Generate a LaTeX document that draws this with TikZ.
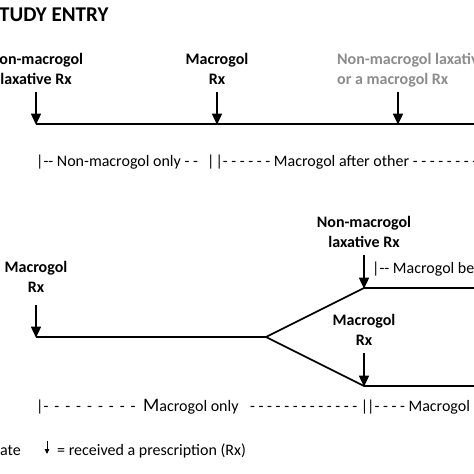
\documentclass[tikz,border=0pt]{standalone}
\usepackage{fontspec}
\setmainfont{Carlito}
\usetikzlibrary{arrows.meta}
\definecolor{graytxt}{RGB}{140,140,140}
\tikzset{
  rx/.style={draw, line width=1.4pt, -{Triangle[width=10pt,length=11pt]}},
  tl/.style={line width=1.6pt},
  lbl/.style={font=\fontsize{16}{20}\selectfont\bfseries, align=center, anchor=south, inner sep=0pt, text depth=0pt},
  row/.style={font=\fontsize{16}{20}\selectfont, anchor=base west, inner sep=0pt},
}
\begin{document}
\begin{tikzpicture}[x=1pt,y=-1pt]
\useasboundingbox (0,0) rectangle (474,474);
\clip (0,0) rectangle (474,474);
% title
\node[anchor=base west, inner sep=0pt, font=\fontsize{21}{24}\selectfont\bfseries] (title) at (-1,21) {TUDY ENTRY};
% top timeline
\coordinate (t0) at (36,124);
\coordinate (tend) at (476,124);
\draw[tl] (t0) -- (tend);
\node[lbl] (l1) at (36,85) {Non-macrogol\\laxative Rx};
\node[lbl] (l2) at (217,85) {Macrogol\\Rx};
\node[lbl, align=left, anchor=south west, text=graytxt] (l3) at (337,85) {Non-macrogol laxative Rx\\or a macrogol Rx};
\coordinate (a1s) at (36,92);  \coordinate (a1e) at (36,124.7);
\coordinate (a2s) at (217,92); \coordinate (a2e) at (217,124.7);
\coordinate (a3s) at (398,92); \coordinate (a3e) at (398,124.7);
\draw[rx] (a1s) -- (a1e);
\draw[rx] (a2s) -- (a2e);
\draw[rx] (a3s) -- (a3e);
\node[row] (t1) at (36,166) {|-{}- Non-macrogol only - -};
\node[row] (t2) at (207,166) {|\kern1pt|- - - - - - Macrogol after other - - - - - - - - - -};
% bottom timeline
\coordinate (b0) at (36,337);
\coordinate (split) at (266,337);
\coordinate (up) at (364,288);
\coordinate (upend) at (476,288);
\coordinate (dn) at (364,386);
\coordinate (dnend) at (476,386);
\draw[tl] (b0) -- (split) -- (up) -- (upend);
\draw[tl] (split) -- (dn) -- (dnend);
\node[lbl] (l4) at (36,293) {Macrogol\\Rx};
\node[lbl] (l5) at (364,248) {Non-macrogol\\laxative Rx};
\node[lbl] (l6) at (364,346) {Macrogol\\Rx};
\coordinate (a4s) at (36,305);  \coordinate (a4e) at (36,337.7);
\coordinate (a5s) at (364,255); \coordinate (a5e) at (364,288.7);
\coordinate (a6s) at (364,353); \coordinate (a6e) at (364,386.7);
\draw[rx] (a4s) -- (a4e);
\draw[rx] (a5s) -- (a5e);
\draw[rx] (a6s) -- (a6e);
\node[row] (u1) at (372,273) {|-{}- Macrogol before other};
\node[row] (b1) at (36,411) {{\spaceskip=6pt |- - - - - - - - -}};
\node[row] (b2) at (143,411) {{\fontsize{19}{20}\selectfont M}acrogol only};
\node[row] (b3) at (250,411) {- - - - - - - - - - - - - |};
\node[row] (b4) at (367,411) {|- - - - Macrogol};
% legend
\node[row] (k0) at (0,455) {ate};
\coordinate (ks) at (47,441); \coordinate (ke) at (47,454);
\draw[line width=0.9pt, -{Triangle[width=4.5pt,length=5pt]}] (ks) -- (ke);
\node[row] (k1) at (57,455) {= received a prescription (Rx)};
\end{tikzpicture}
\end{document}
